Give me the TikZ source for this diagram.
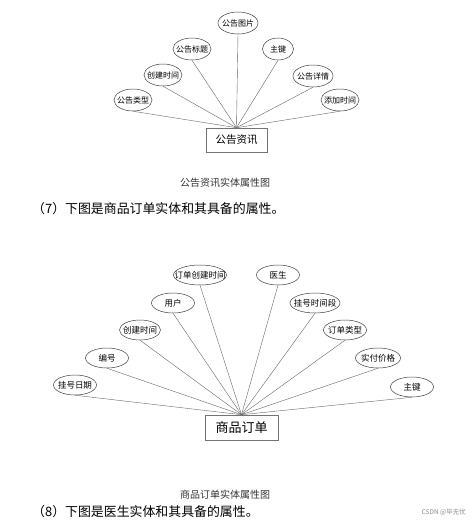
\documentclass[tikz,border=0pt]{standalone}
\usepackage{fontspec}
\setmainfont{Noto Sans CJK SC}
\usetikzlibrary{shapes.geometric}
\begin{document}
\begin{tikzpicture}[
    x=1pt, y=-1pt,
    attr/.style={ellipse, draw=black!75, line width=0.5pt, fill=white,
      minimum width=38pt, minimum height=22pt, inner xsep=-7pt,
      inner ysep=0pt, font=\fontsize{8}{9}\selectfont},
    attrb/.style={attr, minimum width=43pt, minimum height=20pt,
      font=\fontsize{8.5}{9}\selectfont},
    entity/.style={rectangle, draw=black!55, line width=0.6pt,
      inner sep=0pt, align=center},
    line/.style={-, draw=black!60, line width=0.4pt},
    caption/.style={inner sep=0pt, text=black!80,
      font=\fontsize{10}{12}\selectfont},
    para/.style={anchor=west, inner sep=0pt,
      font=\fontsize{12.9}{14}\selectfont}
  ]
    \useasboundingbox (0,0) rectangle (474,531);

    % Entidad 1
    \node[entity, minimum width=61pt, minimum height=24pt,
      font=\fontsize{10.5}{12}\selectfont] (notice) at (236.5, 140) {公告资讯};

    % Atributos 1
    \node[attr, minimum width=40pt] (nimg) at (238, 23) {公告图片};
    \node[attr] (ntitle) at (192, 49) {公告标题};
    \node[attr, minimum width=31pt] (nkey) at (278, 49) {主键};
    \node[attr] (ncreate) at (163, 75) {创建时间};
    \node[attr, minimum width=40pt] (ndetail) at (313, 76) {公告详情};
    \node[attr] (ntype) at (133, 100) {公告类型};
    \node[attr] (nadd) at (340, 100) {添加时间};

    \draw[line] (nimg.south) -- (notice.north);
    \draw[line] (ntitle.south) -- (notice.north);
    \draw[line] (nkey.south) -- (notice.north);
    \draw[line] (ncreate.south) -- (notice.north);
    \draw[line] (ndetail.south) -- (notice.north);
    \draw[line] (ntype.south) -- (notice.north);
    \draw[line] (nadd.south) -- (notice.north);

    \node[caption] (cap1) at (225, 183) {公告资讯实体属性图};
    \node[para] (para1) at (32, 209) {（7）下图是商品订单实体和其具备的属性。};

    % Entidad 2
    \node[entity, minimum width=73pt, minimum height=25pt,
      font=\fontsize{13}{15}\selectfont] (order) at (241.5, 427.5) {商品订单};

    % Atributos 2
    \node[attrb, minimum width=53pt] (octime) at (200, 275) {订单创建时间};
    \node[attrb] (odoctor) at (278, 275) {医生};
    \node[attrb] (ouser) at (173, 303) {用户};
    \node[attrb, minimum width=50pt] (oslot) at (315, 303) {挂号时间段};
    \node[attrb, minimum width=41pt] (ocreate) at (140, 330) {创建时间};
    \node[attrb] (otype) at (345, 330) {订单类型};
    \node[attrb] (onum) at (107, 358) {编号};
    \node[attrb, minimum width=45pt] (oprice) at (378, 358) {实付价格};
    \node[attrb] (odate) at (75, 385) {挂号日期};
    \node[attrb] (okey) at (412, 387) {主键};

    \draw[line] (octime.south) -- (order.north);
    \draw[line] (odoctor.south) -- (order.north);
    \draw[line] (ouser.south) -- (order.north);
    \draw[line] (oslot.south) -- (order.north);
    \draw[line] (ocreate.south) -- (order.north);
    \draw[line] (otype.south) -- (order.north);
    \draw[line] (onum.south) -- (order.north);
    \draw[line] (oprice.south) -- (order.north);
    \draw[line] (odate.south) -- (order.north);
    \draw[line] (okey.south) -- (order.north);

    \node[caption] (cap2) at (225, 495) {商品订单实体属性图};
    \node[para] (para2) at (32, 512) {（8）下图是医生实体和其具备的属性。};
    \node[anchor=east, inner sep=0pt, text=black!45,
      font=\fontsize{6.5}{7}\selectfont] (mark) at (466, 512) {CSDN @毕无忧};
  \end{tikzpicture}
\end{document}
